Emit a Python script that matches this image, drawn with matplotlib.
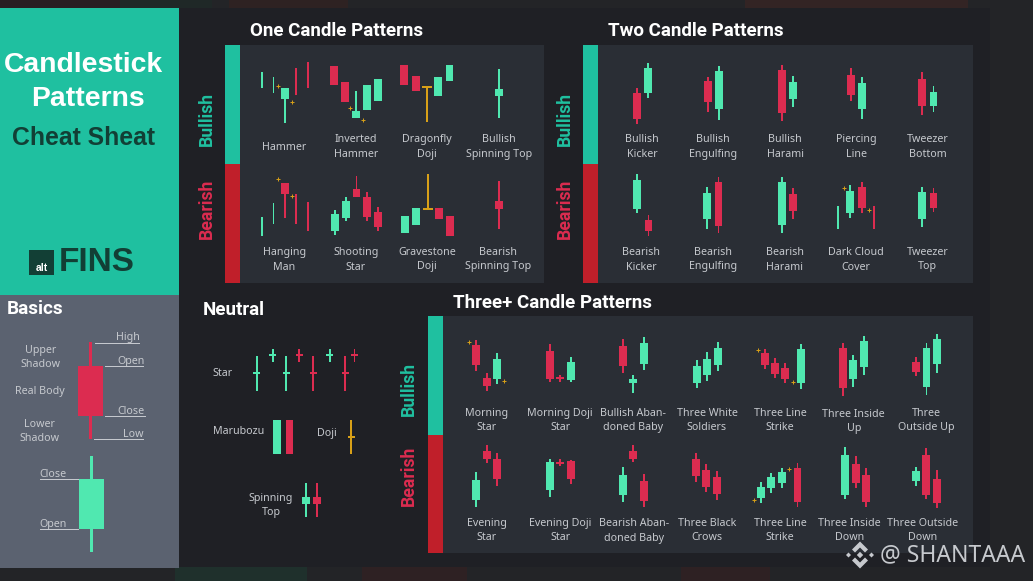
import matplotlib
matplotlib.use("Agg")
import matplotlib.pyplot as plt
from matplotlib.patches import Rectangle, Polygon

GREEN = "#50E8B0"
RED = "#DC2C50"
AMBER = "#D8A018"
TEAL = "#1FC0A0"
DARKRED = "#C01F2A"
FRAME = "#1F2025"
PANEL = "#2A2E35"
LABEL = "#C6C9CE"
INK = "#123F35"
SIDES = {"g": GREEN, "r": RED, "a": AMBER}
HEAD = "Roboto"

# candles: (high, open, close, low, [side]); open/close None = wick only,
# prices are pixels above the row's baseline
hammer = [(92.3, None, None, 75.7, "g"), (87.3, None, None, 70.7, "g"), (75.7, 64.7, 75.7, 40.7),
          (95.7, None, None, 69, "r"), (102, None, None, 75.7, "r")]
hammer_stars = [(1.43, 78.3), (2.63, 62.3)]
inverted_hammer = [(98, 98, 78.7, 78.7), (82.3, 82.3, 62.3, 62.3), (73, 46.3, 53.3, 46.3),
                   (78.7, 54.3, 78.7, 54.3), (85.3, 62.7, 85.3, 62.7)]
inverted_stars = [(1.47, 55.7), (2.69, 43.7)]
dragonfly = [(99, 99, 79, 79), (88.3, 88.3, 72.7, 72.7), (76.7, 76.7, 76.7, 42, "a"),
             (86.7, 67.7, 86.7, 67.7), (99.3, 82.7, 99.3, 82.7)]
bull_spin = [(95, 67.7, 75, 46.3)]
hanging_man = [(66.3, None, None, 47.3, "g"), (79.7, None, None, 59.3, "g"), (100, 100, 89.3, 65.3),
               (89, None, None, 59.3, "r"), (81, None, None, 51.7, "r")]
hanging_stars = [(1.38, 104), (2.63, 86.7)]
shooting_star = [(73, 51.7, 68.7, 48.3), (85.7, 65.3, 82.3, 61.7), (107.3, 93.7, 86.3, 86.3),
                 (91.3, 86.3, 66.3, 62), (76.3, 71.3, 56.3, 52)]
gravestone = [(67.3, 49.7, 67.3, 49.7), (74.7, 57.7, 74.7, 57.7), (109.3, 74, 74, 74, "a"),
              (74.7, 74.7, 63.7, 63.7), (67, 67, 47.3, 47.3)]
bear_spin = [(102, 82, 74.3, 53.7)]

bull_kicker = [(76, 71.3, 45, 40.3), (100.7, 71, 96.3, 66.3)]
bull_engulf = [(86.7, 82.7, 62.3, 51.7), (98, 55.3, 93.3, 43.7)]
bull_harami = [(98.7, 93.7, 51.3, 42.7), (88, 64.7, 81.7, 57.3)]
piercing = [(96, 89, 69.3, 62.7), (87, 54.7, 81, 44.7)]
tweezer_bottom = [(92, 85.3, 58, 49.3), (78.3, 58, 72.3, 52.3)]
bear_kicker = [(108.7, 74.3, 103, 69.7), (68, 63.3, 52.3, 47.3)]
bear_engulf = [(96, 63.7, 90.3, 54.3), (105.7, 101, 57.3, 50)]
bear_harami = [(106.3, 58.3, 101, 49.7), (95, 89, 72, 64.3)]
dark_cloud = [(77, None, None, 54.3, "g"), (97.7, 70, 92, 65), (101, 96, 75.3, 70.3), (77, None, None, 54.3, "r")]
dark_stars = [(0.5, 94.7), (2.56, 73)]
tweezer_top = [(96.3, 63.7, 91.3, 56.3), (95, 90, 75.3, 71.3)]

morning_star = [(95.3, 90.3, 70, 64.3), (62, 56.7, 49, 44), (82, 56.3, 76.3, 51.3)]
morning_stars = [(-0.7, 93), (2.67, 53.7)]
morning_doji = [(90.7, 84, 56, 53), (60, 56.7, 56.7, 52.7, "r"), (77.7, 55, 73.3, 53.3)]
bull_baby = [(96.3, 89, 69.3, 61.7), (59.7, 52.3, 56.3, 42), (98.3, 71.3, 92, 65)]
white_soldiers = [(75, 52.3, 69.3, 46.7), (82.7, 59.7, 76.3, 54.3), (93, 70.3, 87.3, 64.3)]
strike_up = [(86, 82, 70.3, 66), (77.3, 72.3, 61.3, 56.7), (72.3, 67.3, 56.3, 51.7), (91.3, 51.7, 86, 46.3)]
strike_up_stars = [(-0.68, 84.7), (2.72, 53.3)]
inside_up = [(91.7, 87, 47.3, 39.3), (80, 56, 75.3, 48.3), (99, 67.7, 94, 59.7)]
outside_up = [(78, 73.3, 63, 59), (91.7, 47.7, 86.7, 39.7), (100.7, 71, 95.7, 62.3)]
evening_star = [(80.7, 53, 73, 45.7), (108, 102, 94, 90.3), (99.7, 93.7, 73.7, 67)]
evening_doji = [(93.7, 62.7, 90.7, 56.3), (94, 90.3, 90.3, 87, "r"), (93, 92, 73.7, 69.3)]
bear_baby = [(86, 58.3, 78.3, 51.3), (108.3, 102, 94.3, 91), (79, 72, 52, 45.7)]
black_crows = [(99.7, 94, 77.3, 71.3), (89.3, 83.3, 66.3, 61), (82, 76, 59.3, 53.3)]
strike_down = [(70.7, 55.3, 66.3, 50.3), (80.3, 64.7, 75.7, 59.7), (85.3, 69.7, 80.7, 64.7), (90.3, 85.3, 51, 45.7)]
strike_down_stars = [(-0.63, 52.7), (2.62, 83.7)]
inside_down = [(105.7, 58.3, 98, 53.7), (97, 89, 70, 65), (85.3, 77.7, 51.3, 46)]
outside_down = [(86.3, 71.7, 82, 67.3), (105.3, 97.7, 58.3, 54), (82.7, 74, 49.7, 44.7)]

basics_red = [(210.7, 187.3, 137, 113.7)]
basics_green = [(97.3, 23.7, 74.3, 0.7)]
star_long_g = (64.3, 47.3, 47.3, 29.3, "g")
star_long_r = (64.3, 47.3, 47.3, 29.3, "r")
star_small_g = (71, 64.7, 64.7, 58.4, "g")
star_small_r = (71, 64.7, 64.7, 58.4, "r")
marubozu = [(34.6, 0, 34.6, 0), (34.6, 34.6, 0, 0)]
doji = [(34, 17.3, 17.3, 0, "a")]
spinning = [(34.3, 12.7, 20.3, 0), (34.3, 20.3, 12.7, 0)]

plt.rcParams["font.family"] = ["Noto Sans", "DejaVu Sans"]
fig = plt.figure(figsize=(10.33, 5.81), dpi=100, facecolor="#232427")
ax = fig.add_axes([0, 0, 1, 1])
ax.set_xlim(0, 1033)
ax.set_ylim(581, 0)
ax.axis("off")


def box(x0, y0, x1, y1, color):
    ax.add_patch(Rectangle((x0, y0), x1 - x0, y1 - y0, fc=color, ec="none"))


def draw(pattern, x0, step, base, body=7.8, wick=1.8, tick=7, slots=None, stars=()):
    for i, c in enumerate(pattern):
        x = x0 + (slots[i] if slots else i) * step
        high, op, cl, low = c[:4]
        if op is None or op == cl:
            color = SIDES[c[4]]
        else:
            color = GREEN if cl > op else RED
        ax.bar(x, high - low, width=wick, bottom=base - high, color=color, lw=0)
        if op is None:
            continue
        if op == cl:
            ax.bar(x, 1.7, width=tick, bottom=base - op - 0.85, color=color, lw=0)
        else:
            ax.bar(x, abs(cl - op), width=body, bottom=base - max(op, cl), color=color, lw=0)
    for slot, price in stars:
        ax.plot(x0 + slot * step, base - price, marker="+", ms=3, mew=0.7, color=AMBER)


def label(x, y, s, size=7.7, color=LABEL, **kw):
    ax.text(x, y + 0.8, s, ha="center", va="center", fontsize=size, color=color, **kw)


def two_lines(x, y, s):
    for k, line in enumerate(s.split("\n")):
        label(x, y + k * 14.5, line)


# outer bands, frame and panels
for x0, x1, color in [(0, 120, "#281F23"), (120, 212, "#1F2827"), (229, 348, "#2E2222"), (745, 968, "#332424")]:
    box(x0, 0, x1, 8, color)
for x0, x1, color in [(175, 307, "#1F302C"), (362, 467, "#2E2123"), (681, 770, "#2E2123")]:
    box(x0, 567, x1, 581, color)
box(179, 8, 990, 567, FRAME)
box(0, 8, 179, 295, TEAL)
box(0, 295, 179, 568, "#5B6270")
for x0, x1, y0, y1, y2 in [(225, 544, 45, 164, 283), (583, 973, 45, 164, 283), (428, 973, 316, 435, 553)]:
    box(x0, y0, x1, y2, PANEL)
    box(x0, y0, x0 + 14.5, y1, TEAL)
    box(x0, y1, x0 + 14.5, y2, DARKRED)

for side_x, yb, yr in [(207, 119, 209), (565, 119, 209), (409, 389, 476)]:
    ax.text(side_x, yb, "Bullish", rotation=90, ha="center", va="center", fontsize=12.7, family=HEAD, weight="bold", color=TEAL)
    ax.text(side_x, yr, "Bearish", rotation=90, ha="center", va="center", fontsize=12.7, family=HEAD, weight="bold", color=RED)

for x, y, s in [(250.5, 30.5, "One Candle Patterns"), (608.5, 30.5, "Two Candle Patterns"),
                (453, 303, "Three+ Candle Patterns"), (203, 310, "Neutral")]:
    ax.text(x, y, s, ha="left", va="center", fontsize=13.5, family=HEAD, weight="bold", color="white")

# title panel
label(83.5, 64, "Candlestick", 20.4, "white", family="Liberation Sans", weight="bold")
label(88, 98, "Patterns", 20.4, "white", family="Liberation Sans", weight="bold")
label(83, 137, "Cheat Sheat", 17.8, INK, family="Liberation Sans", weight="bold")
box(29, 250, 54, 275, INK)
label(41.5, 267, "alt", 7.5, "white", family="Liberation Sans", weight="bold")
ax.text(58.5, 262.5, "FINS", ha="left", va="center", fontsize=24, color=INK, family="Liberation Sans", weight="bold")

# one candle
draw(hammer, 262, 11.4, 164, stars=hammer_stars)
draw(inverted_hammer, 334, 10.9, 164, stars=inverted_stars)
draw(dragonfly, 404.3, 11.3, 164, tick=10)
draw(bull_spin, 498.7, 0, 164)
draw(hanging_man, 262, 11.4, 283, stars=hanging_stars)
draw(shooting_star, 335.3, 10.6, 283)
draw(gravestone, 405, 11.3, 283, tick=10)
draw(bear_spin, 498.7, 0, 283)
for x, y, s in [(284, 147, "Hammer"), (355.7, 139, "Inverted\nHammer"), (427, 139, "Dragonfly\nDoji"),
                (499, 139, "Bullish\nSpinning Top"), (284.3, 251.7, "Hanging\nMan"), (355.7, 251.7, "Shooting\nStar"),
                (427, 251.7, "Gravestone\nDoji"), (498, 251.7, "Bearish\nSpinning Top")]:
    two_lines(x, y, s)

# two candle
draw(bull_kicker, 636.7, 11, 164)
draw(bull_engulf, 708, 11.3, 164)
draw(bull_harami, 782, 11, 164)
draw(piercing, 851, 11, 164)
draw(tweezer_bottom, 922.3, 11.3, 164)
draw(bear_kicker, 636.7, 11.7, 283)
draw(bear_engulf, 707.3, 11.3, 283)
draw(bear_harami, 782, 11, 283)
draw(dark_cloud, 838.3, 12, 283, stars=dark_stars)
draw(tweezer_top, 922.3, 11.3, 283)
for x, y, s in [(642.3, 139, "Bullish\nKicker"), (713, 139, "Bullish\nEngulfing"), (785, 139, "Bullish\nHarami"),
                (856.7, 139, "Piercing\nLine"), (928, 139, "Tweezer\nBottom"), (641.3, 251.7, "Bearish\nKicker"),
                (713, 251.7, "Bearish\nEngulfing"), (784.7, 251.7, "Bearish\nHarami"),
                (856.3, 251.7, "Dark Cloud\nCover"), (927.7, 251.7, "Tweezer\nTop")]:
    two_lines(x, y, s)

# three+ candle
draw(morning_star, 476.3, 10.5, 435, stars=morning_stars)
draw(morning_doji, 549.7, 10.5, 435, tick=8)
draw(bull_baby, 622.7, 10.67, 435)
draw(white_soldiers, 697, 10.33, 435)
draw(strike_up, 764.7, 10.3, 435, slots=[0, 1, 2, 3.5], stars=strike_up_stars)
draw(inside_up, 842.7, 10.5, 435)
draw(outside_up, 916, 10.5, 435)
draw(evening_star, 476.3, 10.5, 553)
draw(evening_doji, 549.7, 10.5, 553, tick=8)
draw(bear_baby, 622.7, 10.67, 553)
draw(black_crows, 695.7, 10.5, 553)
draw(strike_down, 760.7, 10.67, 553, slots=[0, 1, 2, 3.44], stars=strike_down_stars)
draw(inside_down, 845.3, 10.5, 553)
draw(outside_down, 915.7, 10.5, 553)
for x, y, s in [(487, 412.3, "Morning\nStar"), (560.3, 412.3, "Morning Doji\nStar"),
                (633.3, 412.3, "Bullish Aban-\ndoned Baby"), (707, 412.3, "Three White\nSoldiers"),
                (780, 412.3, "Three Line\nStrike"), (853.7, 413.7, "Three Inside\nUp"),
                (926.7, 412.3, "Three\nOutside Up"), (487, 522.7, "Evening\nStar"),
                (560.3, 522.7, "Evening Doji\nStar"), (634, 522.7, "Bearish Aban-\ndoned Baby"),
                (707, 522.7, "Three Black\nCrows"), (780, 522.7, "Three Line\nStrike"),
                (849.3, 522.7, "Three Inside\nDown"), (922.7, 522.7, "Three Outside\nDown")]:
    two_lines(x, y, s)

# basics
ax.text(6.5, 309, "Basics", ha="left", va="center", fontsize=13.6, family=HEAD, weight="bold", color="white")
draw(basics_red, 90.7, 0, 553, body=24.6, wick=3.3)
draw(basics_green, 91.3, 0, 553, body=24.6, wick=3.3)
for x0, x1, y, tx, ty, s in [(95, 139, 342.5, 128.3, 337, "High"), (105, 143, 365.7, 130.7, 360.5, "Open"),
                             (105, 145, 416, 131, 411, "Close"), (94, 143, 439.3, 133.3, 434, "Low"),
                             (40, 78, 479, 53.3, 474, "Close"), (40, 78, 529, 53.3, 524, "Open")]:
    ax.plot([x0, x1], [y, y], color="#C9CCD2", lw=0.7)
    label(tx, ty, s)
two_lines(40.3, 349.3, "Upper\nShadow")
two_lines(39, 423.3, "Lower\nShadow")
label(40.3, 390.7, "Real Body")

# neutral
label(222.7, 372.7, "Star")
for long_c, small_c, x, step in [(star_long_g, star_small_g, 256.7, 16), (star_long_g, star_small_r, 286, 13),
                                 (star_long_r, star_small_g, 313, 16.7), (star_long_r, star_small_r, 345, 9.5)]:
    draw([long_c, small_c], x, step, 420)
label(238.7, 431, "Marubozu")
draw(marubozu, 276.7, 12.8, 454.3)
label(327, 432.3, "Doji")
draw(doji, 351.3, 0, 454, tick=6.7)
two_lines(271, 497.7, "Spinning\nTop")
draw(spinning, 306, 10.7, 517, body=7.7)

# watermark
mark = "#D9DCE0"
for cx, cy, r in [(860, 555, 3.2), (848.5, 555, 2.5), (871.5, 555, 2.5)]:
    ax.add_patch(Polygon([(cx - r, cy), (cx, cy - r), (cx + r, cy), (cx, cy + r)], fc=mark, ec="none", alpha=0.9))
for sign in (-1, 1):
    ax.add_patch(Polygon([(860, 555 + sign * 13.5), (868, 555 + sign * 5.5), (865, 555 + sign * 2.5),
                          (860, 555 + sign * 7.5), (855, 555 + sign * 2.5), (852, 555 + sign * 5.5)],
                         fc=mark, ec="none", alpha=0.9))
ax.text(880, 555, "@ SHANTAAA", ha="left", va="center", fontsize=16.5, color=mark, alpha=0.9)

fig.savefig("out.png", dpi=100, facecolor=fig.get_facecolor())
